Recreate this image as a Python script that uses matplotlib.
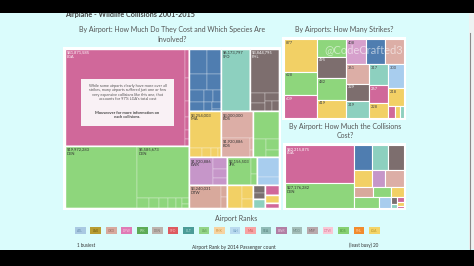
import matplotlib
matplotlib.use("Agg")
import matplotlib.pyplot as plt
from matplotlib.patches import Rectangle

W, H = 474, 266

# ---------------- data ----------------
airports = ["LGA", "DEN", "ATL", "SFO", "PHL", "MIA", "BOS", "SEA", "EWR",
            "JFK", "IAH", "DTW", "PHX", "MCO", "CLT", "DFW", "LAS", "MSP"]
cost_musd = [42.2, 27.2, 7.0, 6.35, 6.35, 5.15, 5.25, 4.15, 3.7,
             2.85, 2.15, 3.05, 2.1, 0.6, 0.4, 0.5, 0.38, 0.27]

# share of each airport's cost by species (largest first)
species_share = {
    "LGA": [97, 0.9, 0.7, 0.5, 0.4, 0.3, 0.2],
    "DEN": [58, 35, 1.6, 1.4, 1.2, 1.0, 0.8, 0.6, 0.4],
    "ATL": [22, 18, 14, 11, 9, 7, 6, 5, 4, 3, 1],
    "SFO": [100],
    "PHL": [70, 9, 7, 6, 4, 4],
    "MIA": [80, 8, 6, 4, 2],
    "BOS": [58, 37, 3, 2],
    "SEA": [60, 20, 12, 8],
    "EWR": [62, 16, 12, 10],
    "JFK": [80, 12, 8],
    "IAH": [70, 30],
    "DTW": [85, 8, 7],
    "PHX": [60, 25, 15],
    "MCO": [60, 40],
    "CLT": [100],
    "DFW": [100],
    "LAS": [100],
    "MSP": [100],
}
species_labels = {
    ("LGA", 0): "$41,871,585\nLGA",
    ("DEN", 0): "$19,972,283\nDEN",
    ("DEN", 1): "$5,585,673\nDEN",
    ("SFO", 0): "$6,173,797\nSFO",
    ("PHL", 0): "$3,844,795\nPHL",
    ("MIA", 0): "$3,254,003\nMIA",
    ("BOS", 0): "$3,000,000\nBOS",
    ("BOS", 1): "$1,920,886\nBOS",
    ("EWR", 0): "$1,920,886\nEWR",
    ("JFK", 0): "$2,156,503\nJFK",
    ("DTW", 0): "$3,240,031\nDTW",
}
cost_labels = {"LGA": "$42,215,875\nLGA", "DEN": "$27,176,282\nDEN"}

main_groups = [["LGA", "DEN"],
               [["ATL", "SFO", "PHL"], ["MIA", "BOS", "SEA"], ["EWR", "JFK", "IAH"],
                ["DTW", "PHX", ["MCO", "CLT"], ["DFW", "LAS", "MSP"]]]]
cost_groups = [["LGA", "DEN"],
               [["ATL", "SFO", "PHL"], ["MIA", "EWR", "BOS"], ["DTW", "JFK", "PHX"],
                ["SEA", "IAH", ["MCO", "CLT"], ["DFW", "LAS", "MSP"]]]]

strike_counts = [877, 628, 609, 400, 495, 482, 419, 408, 390, 380,
                 361, 329, 319, 317, 267, 228, 300, 218, 60, 50, 40]
strike_text = ["877", "628", "609", "", "495", "482", "419", "408", "", "",
               "361", "329", "319", "317", "267", "228", "300", "218", "", "", ""]
strike_groups = [[0, 1, 2], [3, 4, 5, 6],
                 [[7, 8, 9], [[10, 11, 12], [13, 14, 15], [16, 17, [18, 19, 20]]]]]

legend_airports = ["ATL", "LAX", "ORD", "DFW", "JFK", "DEN", "SFO", "CLT", "LAS", "PHX",
                   "IAH", "MIA", "SEA", "EWR", "MCO", "MSP", "DTW", "BOS", "PHL", "LGA"]

# ---------------- styles ----------------
airport_color = {
    "LGA": "#d0689a", "DEN": "#8ed67c", "ATL": "#4f7db0", "SFO": "#8dd0bf",
    "PHL": "#7d6e6e", "MIA": "#f2d065", "BOS": "#dcaea6", "SEA": "#8ed67c",
    "EWR": "#c696c9", "JFK": "#8ed67c", "IAH": "#a8cdee", "DTW": "#d8a99c",
    "PHX": "#f2d065", "MCO": "#7a7070", "CLT": "#8dd0bf", "DFW": "#d0689a",
    "LAS": "#f2d065", "MSP": "#d0689a",
}
white_text = {"LGA", "PHL"}
strike_colors = ["#f2d065", "#8ed67c", "#d0689a", "#8ed67c", "#7d6e6e", "#8ed67c",
                 "#f2d065", "#d6a0cc", "#4f7db0", "#dcaea6", "#dcaea6", "#7d6e6e",
                 "#8dd0bf", "#8dd0bf", "#d0689a", "#f2d065", "#a8cdee", "#f2d065",
                 "#d0689a", "#f2d065", "#8dd0bf"]
legend_bg = ["#a9c9e2", "#b89c32", "#d8aa9e", "#e07ab5", "#5dab57", "#bdb3ad", "#dd5a60",
             "#4b9c97", "#93d486", "#f6d3a0", "#b9daef", "#f7a3a3", "#90bcb7", "#b27fa4",
             "#a3bdb8", "#b8a9ac", "#f9c6d4", "#86d072", "#f28b2d", "#f4d468"]
legend_fg = ["#6a8fb0", "#6e5d10", "#9a7068", "#f4d0e4", "#c8e8c4", "#7d746e", "#f7c1c3",
             "#b6e1de", "#5c9650", "#c78f3e", "#6f9ec0", "#d06060", "#55807b", "#e6cde0",
             "#6e8a85", "#7a6a6d", "#d67897", "#4d943d", "#fbd2ac", "#b8962a"]

FONT = ["Lato", "DejaVu Sans"]
plt.rcParams["font.family"] = FONT
TITLE_C = "#555555"

cost_of = dict(zip(airports, cost_musd))


# ---------------- layout helpers ----------------
def total(node, val):
    if isinstance(node, list):
        return sum(total(c, val) for c in node)
    return val(node)


def slice_layout(node, x, y, w, h, horiz, val, out):
    if not isinstance(node, list):
        out.append((node, x, y, w, h))
        return
    s = total(node, val)
    pos = 0.0
    for c in node:
        f = total(c, val) / s
        if horiz:
            slice_layout(c, x + pos * w, y, f * w, h, not horiz, val, out)
        else:
            slice_layout(c, x, y + pos * h, w, f * h, not horiz, val, out)
        pos += f


def squarify(values, x, y, w, h):
    s_all = float(sum(values))
    areas = [v * w * h / s_all for v in values]
    rects = []
    i = 0
    while i < len(areas):
        short = min(w, h)

        def worst(r):
            s = sum(r)
            return max(max(short * short * a / (s * s), s * s / (short * short * a)) for a in r)

        row = [areas[i]]
        j = i + 1
        while j < len(areas) and worst(row + [areas[j]]) <= worst(row):
            row.append(areas[j])
            j += 1
        s = sum(row)
        if w >= h:
            cw = s / h
            yy = y
            for a in row:
                rects.append((x, yy, cw, a / cw))
                yy += a / cw
            x += cw
            w -= cw
        else:
            rh = s / w
            xx = x
            for a in row:
                rects.append((xx, y, a / rh, rh))
                xx += a / rh
            y += rh
            h -= rh
        i = j
    return rects


fig = plt.figure(figsize=(W / 100, H / 100), dpi=100)
bg = fig.add_axes([0, 0, 1, 1])
bg.set_xlim(0, W)
bg.set_ylim(H, 0)
bg.axis("off")
bg.add_patch(Rectangle((0, 0), W, H, facecolor="#dafcfc", edgecolor="none", zorder=0))


def px_axes(x, y, w, h):
    ax = fig.add_axes([x / W, 1 - (y + h) / H, w / W, h / H])
    ax.set_xlim(0, w)
    ax.set_ylim(h, 0)
    ax.axis("off")
    return ax


# white frames behind treemaps
for (fx, fy, fw, fh) in [(63, 47, 218, 163), (282, 37, 124, 83), (283, 143, 123, 67)]:
    bg.add_patch(Rectangle((fx, fy), fw, fh, facecolor="white", edgecolor="none", zorder=1))

# ---------------- main treemap ----------------
mw, mh = 214, 159
axm = px_axes(65, 49, mw, mh)
cells = []
slice_layout(main_groups, 0, 0, mw, mh, True, lambda n: cost_of[n], cells)
for name, x, y, cw, ch in cells:
    col = airport_color[name]
    rects = squarify(species_share[name], x, y, cw, ch)
    for k, (rx, ry, rw, rh) in enumerate(rects):
        axm.add_patch(Rectangle((rx, ry), rw, rh, facecolor=col,
                                edgecolor=(1, 1, 1, 0.55), lw=0.35))
        lab = species_labels.get((name, k))
        if lab:
            axm.text(rx + 1.8, ry + 1.8, lab, fontsize=2.9, va="top", ha="left",
                     linespacing=1.1,
                     color="white" if name in white_text else "#333333")
    axm.add_patch(Rectangle((x, y), cw, ch, facecolor="none", edgecolor="white", lw=1.0))

# annotation box inside LGA
axm.add_patch(Rectangle((16, 30), 93, 47, facecolor="#f9f1f5", edgecolor="none", zorder=3))
axm.text(62.5, 35, "While some airports clearly have more over all\n"
                   "strikes, many airports suffered just one or few\n"
                   "very expensive collisions like this one, that\n"
                   "accounts for 97% LGA's total cost",
         fontsize=2.8, ha="center", va="top", color="#555555", linespacing=1.15, zorder=4)
axm.text(62.5, 61.5, "Mouseover for more information on\neach collisions.",
         fontsize=2.9, ha="center", va="top", color="#444444", fontweight="bold",
         linespacing=1.2, zorder=4)

# ---------------- strikes treemap ----------------
sw, sh = 120, 79
axs = px_axes(284, 39, sw, sh)
cells = []
slice_layout(strike_groups, 0, 0, sw, sh, True, lambda i: strike_counts[i], cells)
for i, x, y, cw, ch in cells:
    axs.add_patch(Rectangle((x, y), cw, ch, facecolor=strike_colors[i],
                            edgecolor="white", lw=0.8))
    if strike_text[i]:
        dark = strike_colors[i] in ("#7d6e6e", "#d0689a", "#4f7db0")
        axs.text(x + 1.8, y + 1.6, strike_text[i], fontsize=2.9, va="top", ha="left",
                 color="#f4f4f4" if dark else "#444444")
axs.text(80, 10.5, "@CodeCrafted3", fontsize=8.0, ha="center", va="center",
         color="white", alpha=0.55, clip_on=True)

# ---------------- cost treemap ----------------
cw_, ch_ = 119, 63
axc = px_axes(285, 145, cw_, ch_)
cells = []
slice_layout(cost_groups, 0, 0, cw_, ch_, True, lambda n: cost_of[n], cells)
for name, x, y, cw, ch in cells:
    axc.add_patch(Rectangle((x, y), cw, ch, facecolor=airport_color[name],
                            edgecolor="white", lw=0.8))
    if name in cost_labels:
        axc.text(x + 1.8, y + 2.0, cost_labels[name], fontsize=2.9, va="top", ha="left",
                 linespacing=1.1,
                 color="white" if name in white_text else "#333333")

# ---------------- titles & texts ----------------
bg.text(130, 14.8, "Airplane - Wildlife Collisions 2001-2015", fontsize=5.2,
        fontweight="bold", color="#444444", ha="center", va="center", zorder=1)
bg.text(172, 29.5, "By Airport: How Much Do They Cost and Which Species Are",
        fontsize=5.0, color=TITLE_C, ha="center", va="center", zorder=2)
bg.text(172, 39, "Involved?", fontsize=5.0, color=TITLE_C, ha="center", va="center", zorder=2)
bg.text(344, 29.5, "By Airports: How Many Strikes?", fontsize=5.0, color=TITLE_C,
        ha="center", va="center", zorder=2)
bg.text(345, 126.5, "By Airport: How Much the Collisions", fontsize=5.0, color=TITLE_C,
        ha="center", va="center", zorder=2)
bg.text(345, 136, "Cost?", fontsize=5.0, color=TITLE_C, ha="center", va="center", zorder=2)
bg.text(236, 219, "Airport Ranks", fontsize=5.0, color=TITLE_C, ha="center",
        va="center", zorder=2)

# legend chips
x0, step = 80.3, 15.48
for k, code in enumerate(legend_airports):
    cx = x0 + k * step
    bg.add_patch(Rectangle((cx - 5.3, 227.3), 10.6, 6.6, facecolor=legend_bg[k],
                           edgecolor="none", zorder=2))
    bg.text(cx, 230.7, code, fontsize=2.4, ha="center", va="center",
            color=legend_fg[k], zorder=3)

bg.text(77, 245.5, "1 busiest", fontsize=3.3, color="#333333", ha="left",
        va="center", zorder=2)
bg.text(234, 247, "Airport Rank by 2014 Passenger count", fontsize=3.5, color="#333333",
        ha="center", va="center", zorder=2)
bg.text(378, 245.5, "(least busy) 20", fontsize=3.3, color="#333333", ha="right",
        va="center", zorder=2)

# scrollbar
bg.add_patch(Rectangle((469, 13), 5, 236, facecolor="#eef2f2", edgecolor="none", zorder=2))
bg.plot([470.3, 470.3], [33, 249], color="#8a8a8a", lw=0.8, zorder=3)

# black letterbox bars
bg.add_patch(Rectangle((0, 0), W, 12.8, facecolor="black", edgecolor="none", zorder=5))
bg.add_patch(Rectangle((0, 249.5), W, H - 249.5, facecolor="black", edgecolor="none", zorder=5))

fig.savefig("out.png", dpi=100, facecolor="black")
